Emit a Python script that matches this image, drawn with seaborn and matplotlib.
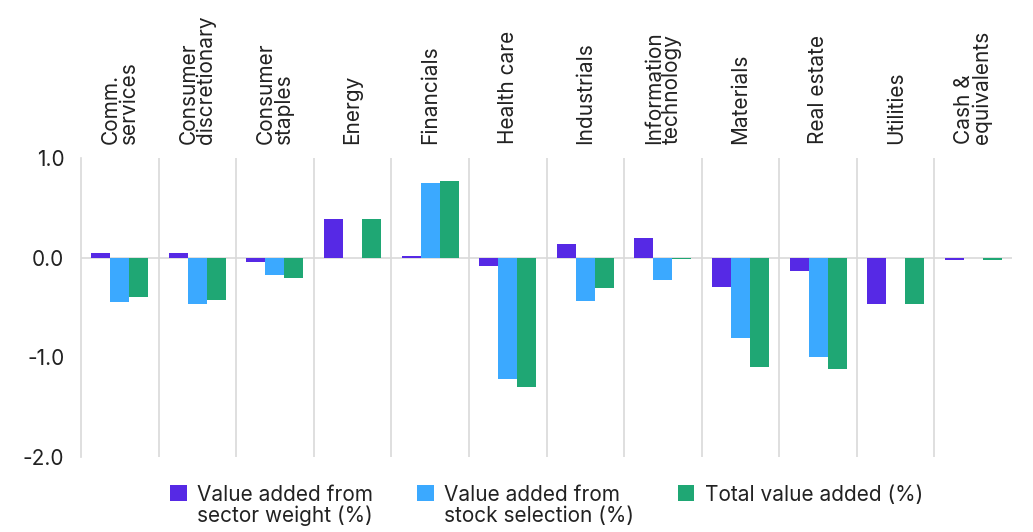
import pandas as pd
import matplotlib
matplotlib.use("Agg")
import matplotlib.pyplot as plt
import seaborn as sns

# 섹터별 데이터
sectors = ["Comm.\nservices", "Consumer\ndiscretionary", "Consumer\nstaples", "Energy",
           "Financials", "Health care", "Industrials", "Information\ntechnology",
           "Materials", "Real estate", "Utilities", "Cash &\nequivalents"]
sector_weight = [0.05, 0.05, -0.04, 0.39, 0.02, -0.08, 0.14, 0.20, -0.29, -0.13, -0.46, -0.02]
stock_selection = [-0.44, -0.46, -0.17, 0.0, 0.75, -1.22, -0.43, -0.22, -0.81, -1.00, 0.0, 0.0]
total_value = [-0.39, -0.42, -0.20, 0.39, 0.77, -1.30, -0.30, -0.01, -1.10, -1.12, -0.46, -0.02]

series_names = ["Value added from\nsector weight (%)",
                "Value added from\nstock selection (%)",
                "Total value added (%)"]
colors = ["#5629E5", "#3BA9FF", "#1FA774"]

df = pd.DataFrame({"sector": sectors,
                   series_names[0]: sector_weight,
                   series_names[1]: stock_selection,
                   series_names[2]: total_value})
long_df = df.melt(id_vars="sector", var_name="series", value_name="value")

sns.set_style("white")
plt.rcParams["font.family"] = ["Inter", "DejaVu Sans"]

fig = plt.figure(figsize=(10.33, 5.32), dpi=100)
ax = fig.add_axes([0.0784, 0.141, 0.9013, 0.562])

sns.barplot(data=long_df, x="sector", y="value", hue="series", order=sectors,
            hue_order=series_names, palette=colors, width=0.735, linewidth=0,
            saturation=1, ax=ax)

ax.set_ylim(-2.0, 1.0)
ax.set_xlim(-0.5, len(sectors) - 0.5)
ax.set_yticks([1.0, 0.0, -1.0, -2.0])
ax.set_yticklabels(["1.0", "0.0", "-1.0", "-2.0"])
ax.set_xlabel("")
ax.set_ylabel("")

grid_color = "#d9d9d9"
ax.axhline(0, color=grid_color, linewidth=1.2, zorder=0)
for i in range(1, len(sectors)):
    ax.axvline(i - 0.5, color=grid_color, linewidth=1.2, zorder=0)

for s in ["top", "right", "bottom"]:
    ax.spines[s].set_visible(False)
ax.spines["left"].set_color(grid_color)
ax.spines["left"].set_linewidth(1.2)

ax.xaxis.tick_top()
ax.tick_params(axis="x", length=0, pad=10)
ax.tick_params(axis="y", length=8, width=1.2, color=grid_color, pad=4,
               labelsize=15, labelcolor="#222222")
for lbl in ax.get_xticklabels():
    lbl.set_rotation(90)
    lbl.set_ha("center")
    lbl.set_va("bottom")
    lbl.set_multialignment("left")
    lbl.set_fontsize(15)
    lbl.set_color("#222222")
    lbl.set_linespacing(0.85)

# 범례 (아래쪽, 3열)
leg = ax.legend(loc="upper center", bbox_to_anchor=(0.5, -0.03), ncol=3,
                frameon=False, fontsize=15, handlelength=0.8, handleheight=0.8,
                handletextpad=0.5, columnspacing=2.1, labelspacing=0.3)
for t in leg.get_texts():
    t.set_color("#222222")
    t.set_linespacing(1.05)
leg._legend_handle_box.align = "top"
for col in leg._legend_handle_box.get_children():
    for row in col.get_children():
        row.align = "top"

fig.savefig("out.png", dpi=100)
